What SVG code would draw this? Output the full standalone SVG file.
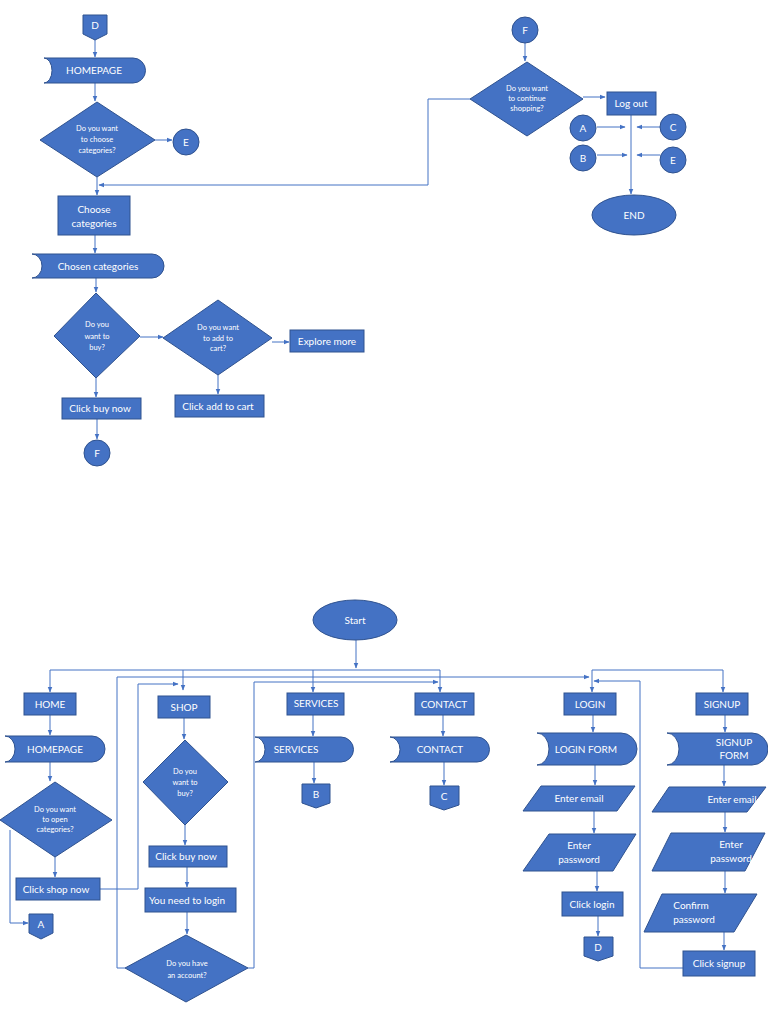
<svg xmlns="http://www.w3.org/2000/svg" width="768" height="1024" viewBox="0 0 768 1024">
<style>
.s{fill:#4472C4;stroke:#2F528F;stroke-width:1}
.t{fill:#fff;font-family:Lato,"Open Sans",sans-serif;font-size:10px;text-anchor:middle}
.sm{font-size:7.5px}
.c{fill:none;stroke:#4472C4;stroke-width:1}
</style>
<defs>
<marker id="a" viewBox="0 0 10 10" refX="9" refY="5" markerWidth="6" markerHeight="6" orient="auto"><path d="M0,1 L10,5 L0,9 z" fill="#4472C4"/></marker>
</defs>
<rect width="768" height="1024" fill="#fff"/>
<g id="connectors" class="c" marker-end="url(#a)">
<path d="M95,40 V57"/>
<path d="M95,83 V101"/>
<path d="M155,140 H172"/>
<path d="M97,177 V195"/>
<path d="M470,99 H428 V185 H99"/>
<path d="M95,235 V253"/>
<path d="M96,278 V292"/>
<path d="M140,337 H163"/>
<path d="M272,342 H289"/>
<path d="M96,378 V397"/>
<path d="M218,375 V394"/>
<path d="M97,419 V439"/>
<path d="M525,43 V61"/>
<path d="M583,97 H605"/>
<path d="M597,127 H625"/>
<path d="M660,127 H637"/>
<path d="M597,155 H627"/>
<path d="M660,155 H637"/>
<path d="M631,115 V194"/>
<path d="M356,640 V668"/>
<path d="M356,670 H50 V692" marker-end="url(#a)"/>
<path d="M183,670 V690"/>
<path d="M313,670 V692"/>
<path d="M356,670 H440 V692"/>
<path d="M592,670 V692"/>
<path d="M592,670 H723 V692"/>
<path d="M50,715 V735"/>
<path d="M50,762 V781"/>
<path d="M55,857 V877"/>
<path d="M100,889 H138 V684 H178"/>
<path d="M10,830 V923 H28"/>
<path d="M184,718 V739"/>
<path d="M185,825 V845"/>
<path d="M187,867 V887"/>
<path d="M187,912 V934"/>
<path d="M125,968 H117 V677 H589"/>
<path d="M248,968 H254 V682 H438"/>
<path d="M313,715 V736"/>
<path d="M314,762 V783"/>
<path d="M443,715 V736"/>
<path d="M444,762 V785"/>
<path d="M593,715 V732"/>
<path d="M595,765 V785"/>
<path d="M594,811 V833"/>
<path d="M597,871 V891"/>
<path d="M598,916 V936"/>
<path d="M725,715 V732"/>
<path d="M724,765 V786"/>
<path d="M725,812 V832"/>
<path d="M725,871 V893"/>
<path d="M724,932 V950"/>
<path d="M683,968 H640 V681 H594"/>
</g>
<g id="n-D1"><path class="s" d="M83,15 H107 V34 L95,40 L83,34 Z"/><text class="t" x="95" y="29">D</text></g>
<g id="n-homepage1"><path class="s" d="M44,58 H133 A12.5,12.5 0 0 1 133,83 H44 A8,12.5 0 0 0 44,58 Z"/><text class="t" x="94" y="74">HOMEPAGE</text></g>
<g id="n-dec1"><path class="s" d="M97,102 L155,140 L97,177 L40,140 Z"/><text class="t sm" x="97" y="131">Do you want</text><text class="t sm" x="97" y="142">to choose</text><text class="t sm" x="97" y="153">categories?</text></g>
<g id="n-E1"><circle class="s" cx="186" cy="142" r="13"/><text class="t" x="186" y="146">E</text></g>
<g id="n-choose"><rect class="s" x="58" y="196" width="72" height="39"/><text class="t" x="94" y="213">Choose</text><text class="t" x="94" y="227">categories</text></g>
<g id="n-chosen"><path class="s" d="M32,254 H152 A12,12 0 0 1 152,278 H32 A10,12 0 0 0 32,254 Z"/><text class="t" x="98" y="270">Chosen categories</text></g>
<g id="n-buy1"><path class="s" d="M96,293 L140,336 L96,378 L54,336 Z"/><text class="t sm" x="97" y="327">Do you</text><text class="t sm" x="97" y="339">want to</text><text class="t sm" x="97" y="350">buy?</text></g>
<g id="n-cart"><path class="s" d="M218,300 L272,338 L218,375 L163,338 Z"/><text class="t sm" x="218" y="330">Do you want</text><text class="t sm" x="218" y="341">to add to</text><text class="t sm" x="218" y="351">cart?</text></g>
<g id="n-explore"><rect class="s" x="290" y="330" width="74" height="22"/><text class="t" x="327" y="345">Explore more</text></g>
<g id="n-buynow1"><rect class="s" x="62" y="398" width="79" height="21"/><text class="t" x="100" y="412">Click buy now</text></g>
<g id="n-addcart"><rect class="s" x="175" y="395" width="89" height="22"/><text class="t" x="218" y="410">Click add to cart</text></g>
<g id="n-F1"><circle class="s" cx="97" cy="453" r="13"/><text class="t" x="97" y="457">F</text></g>
<g id="n-F2"><circle class="s" cx="525" cy="30" r="13"/><text class="t" x="525" y="34">F</text></g>
<g id="n-continue"><path class="s" d="M527,62 L583,99 L527,136 L470,99 Z"/><text class="t sm" x="527" y="91">Do you want</text><text class="t sm" x="527" y="101">to continue</text><text class="t sm" x="527" y="111">shopping?</text></g>
<g id="n-logout"><rect class="s" x="607" y="92" width="49" height="23"/><text class="t" x="631" y="107">Log out</text></g>
<g id="n-A2"><circle class="s" cx="583" cy="128" r="13"/><text class="t" x="583" y="132">A</text></g>
<g id="n-C2"><circle class="s" cx="673" cy="127" r="13"/><text class="t" x="673" y="131">C</text></g>
<g id="n-B2"><circle class="s" cx="583" cy="158" r="13"/><text class="t" x="583" y="162">B</text></g>
<g id="n-E2"><circle class="s" cx="673" cy="160" r="13"/><text class="t" x="673" y="164">E</text></g>
<g id="n-end"><ellipse class="s" cx="634" cy="215" rx="42" ry="20"/><text class="t" x="634" y="219">END</text></g>
<g id="n-start"><ellipse class="s" cx="355" cy="620" rx="42" ry="20"/><text class="t" x="355" y="624">Start</text></g>
<g id="n-home"><rect class="s" x="24" y="693" width="52" height="22"/><text class="t" x="50" y="708">HOME</text></g>
<g id="n-homepage2"><path class="s" d="M5,736 H92 A13,13 0 0 1 92,762 H5 A10,13 0 0 0 5,736 Z"/><text class="t" x="55" y="753">HOMEPAGE</text></g>
<g id="n-opencat"><path class="s" d="M55,782 L112,820 L55,857 L0,820 Z"/><text class="t sm" x="55" y="812">Do you want</text><text class="t sm" x="55" y="822">to open</text><text class="t sm" x="55" y="832">categories?</text></g>
<g id="n-shopnow"><rect class="s" x="16" y="878" width="84" height="22"/><text class="t" x="56" y="893">Click shop now</text></g>
<g id="n-A1"><path class="s" d="M29,914 H53 V933 L41,939 L29,933 Z"/><text class="t" x="41" y="928">A</text></g>
<g id="n-shop"><rect class="s" x="158" y="696" width="52" height="22"/><text class="t" x="184" y="711">SHOP</text></g>
<g id="n-buy2"><path class="s" d="M185,740 L228,782 L185,825 L143,782 Z"/><text class="t sm" x="185" y="774">Do you</text><text class="t sm" x="185" y="785">want to</text><text class="t sm" x="185" y="796">buy?</text></g>
<g id="n-buynow2"><rect class="s" x="149" y="846" width="78" height="21"/><text class="t" x="186" y="860">Click buy now</text></g>
<g id="n-needlogin"><rect class="s" x="145" y="888" width="91" height="24"/><text class="t" x="187" y="904">You need to login</text></g>
<g id="n-account"><path class="s" d="M186,935 L248,968 L186,1002 L125,968 Z"/><text class="t sm" x="187" y="966">Do you have</text><text class="t sm" x="187" y="978">an account?</text></g>
<g id="n-services"><rect class="s" x="287" y="693" width="57" height="22"/><text class="t" x="316" y="707">SERVICES</text></g>
<g id="n-services2"><path class="s" d="M255,737 H341 A12.5,12.5 0 0 1 341,762 H255 A10,12.5 0 0 0 255,737 Z"/><text class="t" x="296" y="753">SERVICES</text></g>
<g id="n-B1"><path class="s" d="M302,784 H330 V803 L316,808 L302,803 Z"/><text class="t" x="316" y="798">B</text></g>
<g id="n-contact"><rect class="s" x="415" y="693" width="59" height="22"/><text class="t" x="444" y="708">CONTACT</text></g>
<g id="n-contact2"><path class="s" d="M390,737 H477 A12.5,12.5 0 0 1 477,762 H390 A10,12.5 0 0 0 390,737 Z"/><text class="t" x="440" y="753">CONTACT</text></g>
<g id="n-C1"><path class="s" d="M430,786 H459 V805 L444,810 L430,805 Z"/><text class="t" x="444" y="800">C</text></g>
<g id="n-login"><rect class="s" x="564" y="693" width="52" height="22"/><text class="t" x="590" y="708">LOGIN</text></g>
<g id="n-loginform"><path class="s" d="M537,733 H621 A16,16 0 0 1 621,765 H537 A12,16 0 0 0 537,733 Z"/><text class="t" x="586" y="753">LOGIN FORM</text></g>
<g id="n-email1"><path class="s" d="M541,786 H635 L617,811 H523 Z"/><text class="t" x="579" y="802">Enter email</text></g>
<g id="n-pass1"><path class="s" d="M549,834 H636 L613,871 H523 Z"/><text class="t" x="579" y="849">Enter</text><text class="t" x="579" y="863">password</text></g>
<g id="n-clicklogin"><rect class="s" x="562" y="892" width="61" height="24"/><text class="t" x="592" y="908">Click login</text></g>
<g id="n-D2"><path class="s" d="M584,937 H613 V956 L598,961 L584,956 Z"/><text class="t" x="598" y="951">D</text></g>
<g id="n-signup"><rect class="s" x="696" y="693" width="52" height="22"/><text class="t" x="722" y="708">SIGNUP</text></g>
<g id="n-signupform"><path class="s" d="M667,733 H752 A16,16 0 0 1 752,765 H667 A12,16 0 0 0 667,733 Z"/><text class="t" x="734" y="746">SIGNUP</text><text class="t" x="734" y="759">FORM</text></g>
<g id="n-email2"><path class="s" d="M669,787 H766 L747,812 H652 Z"/><text class="t" x="732" y="803">Enter email</text></g>
<g id="n-pass2"><path class="s" d="M671,833 H765 L745,871 H652 Z"/><text class="t" x="731" y="848">Enter</text><text class="t" x="731" y="862">password</text></g>
<g id="n-confirm"><path class="s" d="M662,894 H757 L734,932 H644 Z"/><text class="t" x="691" y="909">Confirm</text><text class="t" x="694" y="923">password</text></g>
<g id="n-clicksignup"><rect class="s" x="683" y="951" width="72" height="25"/><text class="t" x="719" y="967">Click signup</text></g>
</svg>
